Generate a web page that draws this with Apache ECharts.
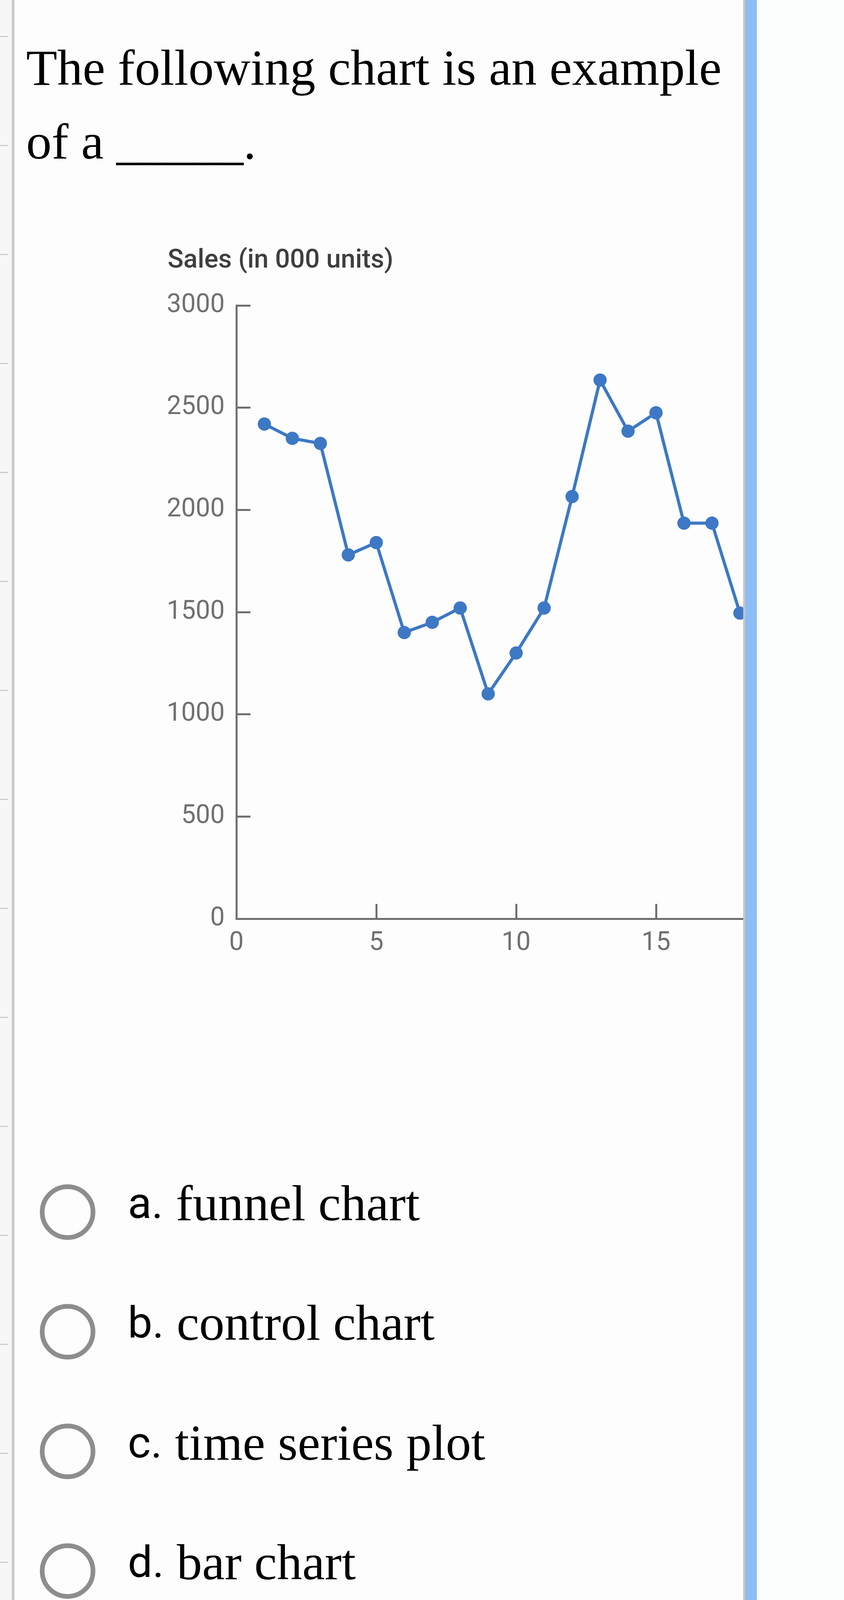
<!DOCTYPE html>
<html>
<head>
<meta charset="utf-8">
<script src="https://cdn.jsdelivr.net/npm/echarts@6/dist/echarts.min.js"></script>
<style>
  html, body { margin: 0; padding: 0; background: #fdfdfd; }
  #root1 { width: 2160px; height: 4214px; }
</style>
</head>
<body>
<div id="root1"></div>
<script>
// values
const periods = [1, 2, 3, 4, 5, 6, 7, 8, 9, 10, 11, 12, 13, 14, 15, 16, 17, 18];
const sales = [2420, 2350, 2325, 1780, 1840, 1400, 1450, 1520, 1100, 1300, 1520, 2065, 2635, 2385, 2475, 1935, 1935, 1495];
const xTickValues = [5, 10, 15];
const xLabelValues = [0, 5, 10, 15];
const questionLines = ['The following chart is an example', 'of a _____.'];
const optionKeys = ['a.', 'b.', 'c.', 'd.'];
const optionTexts = ['funnel chart', 'control chart', 'time series plot', 'bar chart'];

const chartDom = document.getElementById('root1');
const myChart = echarts.init(chartDom, null, { renderer: 'canvas' });

const axisGray = '#6e6e6e';
const labelFont = 'Roboto, sans-serif';
const serif = '"Liberation Serif", "Times New Roman", serif';

// page furniture: margin rule, left ticks, blue scroll strip
const graphics = [
  { type: 'rect', z: 100, shape: { x: 0, y: 0, width: 30, height: 4214 }, style: { fill: '#f7f7f7' } },
  { type: 'rect', z: 100, shape: { x: 30, y: 0, width: 7, height: 4214 }, style: { fill: '#cbcbcb' } },
  { type: 'rect', z: 100, shape: { x: 1902, y: 0, width: 6, height: 4214 }, style: { fill: '#c4c4c4' } },
  { type: 'rect', z: 100, shape: { x: 1908, y: 0, width: 29, height: 4214 }, style: { fill: '#8bbdf7' } },
  { type: 'rect', z: 100, shape: { x: 1937, y: 0, width: 223, height: 4214 }, style: { fill: '#fcfefe' } }
];
for (let k = 0; k < 15; k++) {
  graphics.push({ type: 'rect', z: 101, shape: { x: 0, y: 92 + 279 * k, width: 20, height: 3 }, style: { fill: '#cccccc' } });
}

questionLines.forEach((line, i) => {
  graphics.push({
    type: 'text', z: 101, x: 67, y: 183 + i * 189,
    style: { text: line, font: '130px ' + serif, fill: '#000', verticalAlign: 'middle', align: 'left' }
  });
});

optionKeys.forEach((key, i) => {
  const cy = 3103 + i * 306.3;
  graphics.push({
    type: 'circle', z: 101, shape: { cx: 173, cy: cy, r: 65 },
    style: { fill: 'none', stroke: '#8d8d8d', lineWidth: 12 }
  });
  graphics.push({
    type: 'text', z: 101, x: 327, y: cy - 13,
    style: {
      text: '{k|' + key + '} {v|' + optionTexts[i] + '}',
      verticalAlign: 'middle', align: 'left',
      font: '130px ' + serif,
      rich: {
        k: { fontFamily: 'Roboto', fontSize: 112, color: '#444444' },
        v: { fontFamily: serif, fontSize: 130, color: '#000000' }
      }
    }
  });
});

const plainNumber = v => String(v);

const option = {
  animation: false,
  backgroundColor: '#fdfdfd',
  title: {
    text: 'Sales (in 000 units)',
    left: 429,
    top: 635,
    padding: 0,
    textStyle: { fontFamily: labelFont, fontSize: 67, fontWeight: 500, color: '#3e3e3e' }
  },
  grid: { left: 605, right: 252, top: 782, bottom: 1862, containLabel: false },
  xAxis: {
    type: 'value',
    min: 0,
    max: 18.2,
    interval: 5,
    axisLine: { show: true, lineStyle: { color: axisGray, width: 5 } },
    axisTick: { show: true, inside: true, length: 38, customValues: xTickValues, lineStyle: { color: axisGray, width: 5 } },
    axisLabel: { customValues: xLabelValues, formatter: plainNumber, margin: 30, fontFamily: labelFont, fontSize: 66, color: '#707070' },
    splitLine: { show: false }
  },
  yAxis: {
    type: 'value',
    min: 0,
    max: 3000,
    interval: 500,
    axisLine: { show: true, lineStyle: { color: axisGray, width: 5 } },
    axisTick: { show: true, inside: true, length: 36, lineStyle: { color: axisGray, width: 5 } },
    axisLabel: { formatter: plainNumber, margin: 30, fontFamily: labelFont, fontSize: 66, color: '#707070' },
    splitLine: { show: false }
  },
  series: [{
    type: 'line',
    data: periods.map((p, i) => [p, sales[i]]),
    symbol: 'circle',
    symbolSize: 34,
    lineStyle: { color: '#3d78c5', width: 8 },
    itemStyle: { color: '#3d78c5' },
    clip: false
  }],
  graphic: { elements: graphics }
};

myChart.setOption(option);
</script>
</body>
</html>
